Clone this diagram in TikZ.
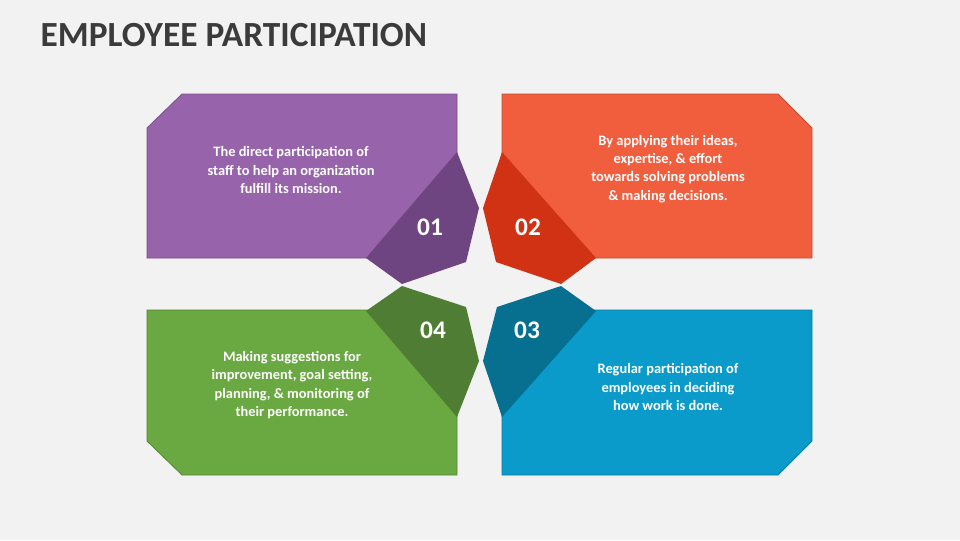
\documentclass[tikz,border=0pt]{standalone}
\usepackage{fontspec}
\setmainfont{Carlito}
\usetikzlibrary{positioning}

\definecolor{bg}{HTML}{F2F2F2}
\definecolor{titlegray}{HTML}{3B3B3B}
\definecolor{purpleL}{HTML}{9763AB}
\definecolor{purpleD}{HTML}{6F4581}
\definecolor{orangeL}{HTML}{F15E3E}
\definecolor{orangeD}{HTML}{D13213}
\definecolor{blueL}{HTML}{0A9BCB}
\definecolor{blueD}{HTML}{077090}
\definecolor{greenL}{HTML}{6AA842}
\definecolor{greenD}{HTML}{507D34}

\begin{document}
\begin{tikzpicture}[x=0.75pt, y=-0.75pt]

% --- Define Styles ---
\tikzset{
  panel/.style={draw=#1!80!black, line width=0.6pt, fill=#1},
  gem/.style={fill=#1, draw=none},
  desc/.style={text=white, align=center, font=\bfseries\fontsize{10.8}{13.6}\selectfont},
  num/.style={text=white, font=\bfseries\fontsize{19}{22}\selectfont}
}

% --- Background ---
\fill[bg] (0,0) rectangle (960,540);
\useasboundingbox (0,0) rectangle (960,540);
\node (title) [anchor=west, text=titlegray, font=\bfseries\fontsize{26.5}{30}\selectfont] at (36,35) {EMPLOYEE PARTICIPATION};

% --- Panels ---
\draw[panel=purpleL] (182,94) -- (457,94) -- (457,258) -- (147,258) -- (147,128) -- cycle;
\draw[panel=orangeL] (502,94) -- (778,94) -- (812,128) -- (812,258) -- (502,258) -- cycle;
\draw[panel=greenL] (147,310) -- (457,310) -- (457,475) -- (182,475) -- (147,441) -- cycle;
\draw[panel=blueL] (502,310) -- (812,310) -- (812,441) -- (778,475) -- (502,475) -- cycle;

% --- Gems ---
\fill[gem=purpleD] (457,152) -- (479,208) -- (466,262) -- (402,284) -- (366,258) -- cycle;
\fill[gem=orangeD] (502,152) -- (483,208) -- (496,262) -- (561,284) -- (596,258) -- cycle;
\fill[gem=greenD] (366,311) -- (402,286) -- (466,307) -- (479,361) -- (457,417) -- cycle;
\fill[gem=blueD] (596,311) -- (561,286) -- (497,307) -- (483,361) -- (502,417) -- cycle;

% --- Numbers ---
\node (n1) [num] at (430,227) {01};
\node (n2) [num] at (528,227) {02};
\node (n3) [num] at (527,330) {03};
\node (n4) [num] at (433,330) {04};

% --- Texts ---
\node (t1) [desc] at (291,170) {The direct participation of\\staff to help an organization\\fulfill its mission.};
\node (t2) [desc] at (668,169) {By applying their ideas,\\expertise, \& effort\\towards solving problems\\\& making decisions.};
\node (t3) [desc] at (668,387) {Regular participation of\\employees in deciding\\how work is done.};
\node (t4) [desc] at (292,385) {Making suggestions for\\improvement, goal setting,\\planning, \& monitoring of\\their performance.};

\end{tikzpicture}
\end{document}
